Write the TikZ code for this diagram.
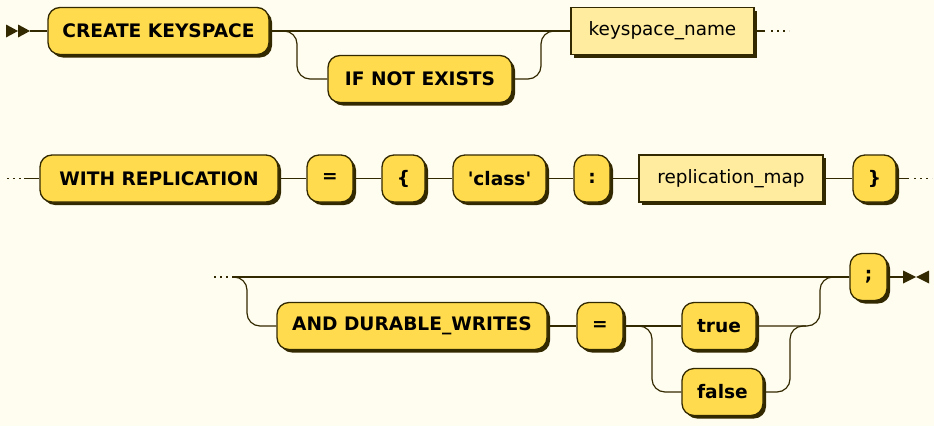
\documentclass[tikz,border=0pt]{standalone}
\usepackage{fontspec}
\newfontfamily\rrfont{DejaVu Sans}
\usetikzlibrary{shadows}
\definecolor{bg}{HTML}{FFFDF0}
\definecolor{term}{HTML}{FFDB4D}
\definecolor{nterm}{HTML}{FFEC9E}
\definecolor{ink}{HTML}{332900}
\tikzset{
  rr/.style={draw=ink, line width=1.2pt},
  dots/.style={draw=ink, line width=1.3pt, dash pattern=on 2pt off 4pt},
  boxshadow/.style={drop shadow={shadow xshift=3pt, shadow yshift=-3pt, fill=ink, opacity=1}},
  termbox/.style={draw=ink, line width=1.3pt, fill=term, rounded corners=12pt,
    minimum height=47pt, inner sep=0pt, text=black,
    font=\rrfont\fontsize{18.6}{21}\selectfont\bfseries, boxshadow},
  ntbox/.style={draw=ink, line width=1.3pt, fill=nterm,
    minimum height=47pt, inner sep=0pt, text=black,
    font=\rrfont\fontsize{18.4}{21}\selectfont, boxshadow},
  rounded/.style={rounded corners=13pt},
}
\begin{document}
\begin{tikzpicture}[x=1pt,y=-1pt]
\useasboundingbox[fill=bg] (0,0) rectangle (934,426);
% ---- row 1 ----
\node[termbox, minimum width=221pt] (ck) at (158.5,31) {CREATE KEYSPACE};
\node[termbox, minimum width=184pt] (ine) at (420,79) {IF NOT EXISTS};
\node[ntbox, minimum width=183pt] (ksn) at (662.5,31) {keyspace\_name};
\coordinate (st) at (30,31);
\coordinate (j1a) at (297,79);
\coordinate (j1b) at (541,31);
\coordinate (e1a) at (765,31);
\coordinate (e1b) at (771,31);
\coordinate (e1c) at (789,31);
\fill[ink] (6,24.5) -- (18,31) -- (6,37.5) -- cycle;
\fill[ink] (18,24.5) -- (30,31) -- (18,37.5) -- cycle;
\draw[rr] (st) -- (ck.west);
\draw[rr] (ck.east) -- (ksn.west);
\draw[rr, rounded] (ck.east) -| (j1a) -- (ine.west);
\draw[rr, rounded] (ine.east) -| (j1b) -- (ksn.west);
\draw[rr] (ksn.east) -- (e1a);
\draw[dots] (e1b) -- (e1c);
% ---- row 2 ----
\node[termbox, minimum width=238pt] (wr) at (159,178.5) {WITH REPLICATION};
\node[termbox, minimum width=46pt] (eqa) at (330,178.5) {=};
\node[termbox, minimum width=43pt] (lb) at (403.5,178.5) {\{};
\node[termbox, minimum width=93pt] (cls) at (499.5,178.5) {'class'};
\node[termbox, minimum width=36pt] (col) at (592,178.5) {:};
\node[ntbox, minimum width=184pt] (rm) at (731,178.5) {replication\_map};
\node[termbox, minimum width=43pt] (rb) at (874.5,178.5) {\}};
\coordinate (s2a) at (7,178.5);
\coordinate (s2b) at (24,178.5);
\coordinate (e2a) at (909,178.5);
\coordinate (e2b) at (914,178.5);
\coordinate (e2c) at (932,178.5);
\draw[dots] (s2a) -- (s2b);
\draw[rr] (s2b) -- (wr.west);
\draw[rr] (wr.east) -- (eqa.west);
\draw[rr] (eqa.east) -- (lb.west);
\draw[rr] (lb.east) -- (cls.west);
\draw[rr] (cls.east) -- (col.west);
\draw[rr] (col.east) -- (rm.west);
\draw[rr] (rm.east) -- (rb.west);
\draw[rr] (rb.east) -- (e2a);
\draw[dots] (e2b) -- (e2c);
% ---- row 3 ----
\node[termbox, minimum width=270pt] (adw) at (412,326) {AND DURABLE\_WRITES};
\node[termbox, minimum width=46pt] (eqb) at (600,326) {=};
\node[termbox, minimum width=74pt] (tru) at (719,326) {true};
\node[termbox, minimum width=81pt] (fal) at (722.5,392) {false};
\node[termbox, minimum width=37pt] (semi) at (868.5,277) {;};
\coordinate (s3a) at (214,277);
\coordinate (s3b) at (232,277);
\coordinate (j3a) at (247,326);
\coordinate (j3b) at (652,392);
\coordinate (j3c) at (820,277);
\coordinate (j3d) at (790,326);
\coordinate (j3e) at (806,326);
\coordinate (ee) at (903,277);
\draw[dots] (s3a) -- (s3b);
\draw[rr] (s3b) -- (semi.west);
\draw[rr, rounded] (s3b) -| (j3a) -- (adw.west);
\draw[rr] (adw.east) -- (eqb.west);
\draw[rr] (eqb.east) -- (tru.west);
\draw[rr, rounded] (eqb.east) -| (j3b) -- (fal.west);
\draw[rr, rounded] (tru.east) -| (j3c) -- (semi.west);
\draw[rr, rounded] (fal.east) -| (j3d) -- (j3e);
\draw[rr] (semi.east) -- (ee);
\fill[ink] (903,270.5) -- (916,277) -- (903,283.5) -- cycle;
\fill[ink] (929,270.5) -- (916,277) -- (929,283.5) -- cycle;
\end{tikzpicture}
\end{document}
